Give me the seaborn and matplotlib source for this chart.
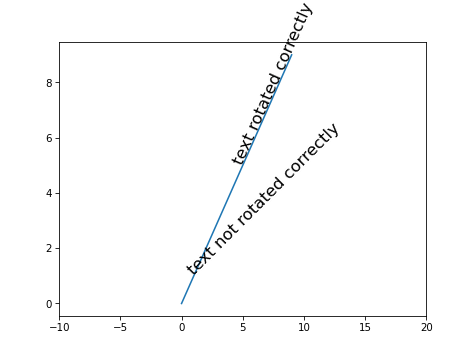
import numpy as np
import pandas as pd
import matplotlib
matplotlib.use("Agg")
import matplotlib.pyplot as plt
import seaborn as sns

x_vals = list(range(0, 10))
y_vals = list(range(0, 10))
label_not = "text not rotated correctly"
label_ok = "text rotated correctly"
pos_not = (1, 1)
pos_ok = (5, 5)
angle = 45

fig, ax = plt.subplots(figsize=(6.4, 4.8), dpi=74)
df = pd.DataFrame({"x": x_vals, "y": y_vals})
sns.lineplot(data=df, x="x", y="y", ax=ax, color="#1f77b4", linewidth=1.5)
ax.set_xlim(-10, 20)
ax.set_xlabel("")
ax.set_ylabel("")
ax.text(*pos_not, label_not, fontsize=16, rotation=angle, rotation_mode="anchor")
ax.text(*pos_ok, label_ok, fontsize=16, rotation=angle, rotation_mode="anchor",
        transform_rotates_text=True)
fig.savefig("out.png", dpi=74)
